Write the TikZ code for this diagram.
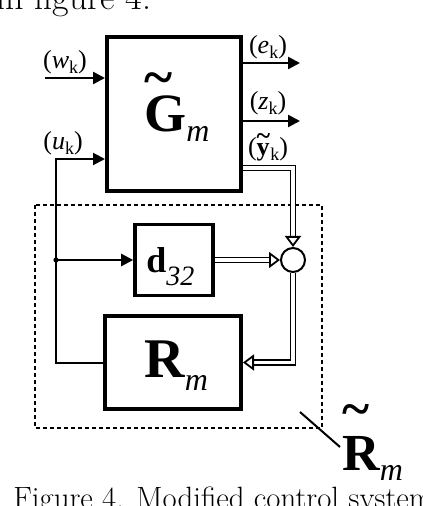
\documentclass[tikz,border=0pt]{standalone}
\usepackage{fontspec}
\usepackage{tikz}
\usetikzlibrary{positioning,calc,arrows.meta}
\newfontfamily\tms{Liberation Serif}
\newcommand{\sglab}[1]{(#1\raisebox{-2.5pt}{\fontsize{9}{9}\selectfont k})}
\newcommand{\tld}[2]{\ooalign{\bfseries #2\cr\raisebox{#1em}{\bfseries\char`\~}\hfil\cr}}
\tikzset{
  blk/.style={draw, line width=2pt, inner sep=0pt},
  sig/.style={line width=1.2pt, -{Triangle[length=6pt,width=6pt]}},
  thin/.style={line width=1pt},
  dbl/.style={double, line width=0.9pt, double distance=1.6pt, -{Triangle[open,length=5.5pt,width=8pt]}},
  lbl/.style={font=\tms\fontsize{13}{13}\selectfont, inner sep=0pt},
  big/.style={anchor=base west, inner sep=0pt, font=\tms\fontsize{#1}{#1}\selectfont}
}
\begin{document}
\begin{tikzpicture}[x=0.5pt,y=-0.5pt]
    \useasboundingbox (0,0) rectangle (422,506);
    \clip (0,0) rectangle (422,506);

    % Text of the page round the figure
    \node[anchor=base west, inner sep=0pt, font=\fontsize{18}{18}\selectfont] (toptxt) at (-4,10) {in figure 4.};
    \node[anchor=base west, inner sep=0pt, font=\fontsize{15.4}{15.4}\selectfont] (caption) at (13,508) {Figure 4. Modified control system};

    % Blocks
    \node[blk, minimum width=67pt, minimum height=77pt] (Gm) at (174,114) {};
    \node[blk, line width=1.8pt, minimum width=39pt, minimum height=35.5pt] (dtt) at (174,260) {};
    \node[blk, minimum width=68pt, minimum height=46.5pt] (Rm) at (173,362.5) {};
    \node[draw, circle, line width=1pt, minimum size=12pt, inner sep=0pt] (sum) at (293,260) {};

    % Block texts
    \node[big=27] (Gtxt) at (144,132)
        {\tld{0.68}{G}\raisebox{-5pt}{\fontsize{16}{16}\selectfont\itshape m}};
    \node[big=18] (dtxt) at (146,273)
        {\bfseries d\raisebox{-6pt}{\fontsize{14}{14}\selectfont\mdseries\itshape 32}};
    \node[big=28] (Rtxt) at (144,377)
        {\bfseries R\raisebox{-6.5pt}{\fontsize{16}{16}\selectfont\mdseries\itshape m}};

    % Dashed frame of the new controller
    \draw[line width=0.9pt, dash pattern=on 2pt off 1.5pt] (35,205) rectangle (322,428);
    \coordinate (lead1) at (300,412);
    \coordinate (lead2) at (340,447);
    \draw[line width=1pt] (lead1) -- (lead2);
    \node[big=26] (Rttxt) at (342,470)
        {\tld{0.83}{R}\raisebox{-5pt}{\fontsize{16}{16}\selectfont\itshape m}};

    % Signals of the plant
    \coordinate (win) at (45,78);
    \coordinate (eout) at (300,63);
    \coordinate (zout) at (300,121);
    \coordinate (yout) at (293,168);
    \coordinate (fbtop) at (56,159);
    \coordinate (tap) at (56,260);
    \draw[sig] (win) -- (win -| Gm.west);
    \draw[sig] (eout -| Gm.east) -- (eout);
    \draw[sig] (zout -| Gm.east) -- (zout);
    \draw[dbl] (yout -| Gm.east) -| (sum.north);

    % Loop
    \draw[thin, -{Triangle[length=6pt,width=6pt]}] (Rm.west) -| (fbtop) -- (fbtop -| Gm.west);
    \fill (tap) circle (1.3pt);
    \draw[sig] (tap) -- (dtt.west);
    \draw[dbl] (dtt.east) -- (sum.west);
    \draw[dbl] (sum.south) |- (Rm.east);

    % Labels
    \node[lbl] (wlab) at (65,62) {\sglab{\textit{w}}};
    \node[lbl] (ulab) at (63,143) {\sglab{\textit{u}}};
    \node[lbl] (elab) at (268,47) {\sglab{\textit{e}}};
    \node[lbl] (zlab) at (268,103) {\sglab{\textit{z}}};
    \node[lbl] (ylab) at (268,149) {\sglab{\tld{0.4}{y}}};
\end{tikzpicture}
\end{document}
